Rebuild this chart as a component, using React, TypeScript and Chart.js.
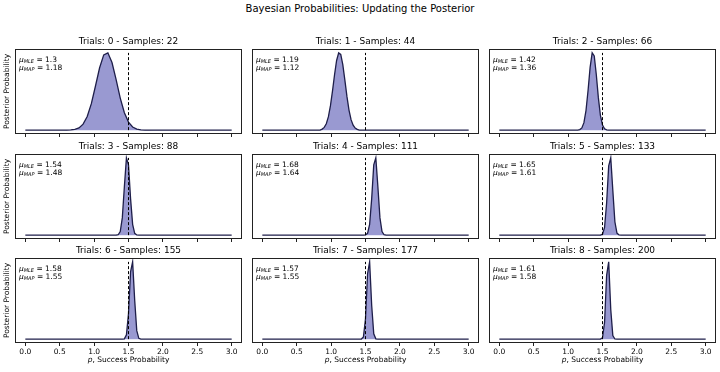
import React, { useEffect, useRef } from 'react';
import { Chart, registerables } from 'chart.js';

Chart.register(...registerables);

const TRIALS = [0, 1, 2, 3, 4, 5, 6, 7, 8];
const SAMPLES = [22, 44, 66, 88, 111, 133, 155, 177, 200];
const MU_MLE = [1.3, 1.19, 1.42, 1.54, 1.68, 1.65, 1.58, 1.57, 1.61];
const MU_MAP = [1.18, 1.12, 1.36, 1.48, 1.64, 1.61, 1.55, 1.55, 1.58];
const TRUE_P = 1.5;
const X_TICKS = [0, 0.5, 1, 1.5, 2, 2.5, 3];

// posterior curves (x = success probability, y = relative density)
const POST_X = [
  [0, 0.54, 0.6, 0.66, 0.72, 0.78, 0.84, 0.9, 0.96, 1.02, 1.08, 1.14, 1.2, 1.26, 1.32, 1.38, 1.44, 1.5, 1.56, 1.62, 1.68, 1.74, 1.8, 1.86, 3],
  [0, 0.84, 0.87, 0.9, 0.93, 0.96, 0.99, 1.02, 1.05, 1.08, 1.11, 1.14, 1.17, 1.2, 1.23, 1.26, 1.29, 1.32, 1.35, 1.38, 1.41, 3],
  [0, 1.14, 1.17, 1.2, 1.23, 1.26, 1.29, 1.32, 1.35, 1.38, 1.41, 1.44, 1.47, 1.5, 1.53, 1.56, 1.59, 3],
  [0, 1.32, 1.35, 1.38, 1.41, 1.44, 1.47, 1.5, 1.53, 1.56, 1.59, 1.62, 1.65, 3],
  [0, 1.47, 1.5, 1.53, 1.56, 1.59, 1.62, 1.65, 1.68, 1.71, 1.74, 1.77, 1.8, 3],
  [0, 1.44, 1.47, 1.5, 1.53, 1.56, 1.59, 1.62, 1.65, 1.68, 1.71, 1.74, 1.77, 3],
  [0, 1.41, 1.44, 1.47, 1.5, 1.53, 1.56, 1.59, 1.62, 1.65, 1.68, 3],
  [0, 1.41, 1.44, 1.47, 1.5, 1.53, 1.56, 1.59, 1.62, 1.65, 1.68, 3],
  [0, 1.44, 1.47, 1.5, 1.53, 1.56, 1.59, 1.62, 1.65, 1.68, 1.71, 3],
];
const POST_Y = [
  [0, 0, 0.001, 0.0025, 0.009, 0.028, 0.077, 0.175, 0.34, 0.566, 0.8, 0.965, 0.991, 0.867, 0.647, 0.411, 0.223, 0.103, 0.04, 0.0135, 0.0039, 0.0009, 0.0002, 0, 0],
  [0, 0, 0.0133, 0.035, 0.082, 0.17, 0.311, 0.501, 0.712, 0.895, 0.993, 0.973, 0.841, 0.642, 0.433, 0.258, 0.135, 0.063, 0.026, 0.0093, 0, 0],
  [0, 0, 0.0067, 0.0286, 0.0957, 0.249, 0.506, 0.801, 0.986, 0.946, 0.707, 0.411, 0.186, 0.066, 0.018, 0.0039, 0, 0],
  [0, 0, 0.005, 0.044, 0.216, 0.607, 0.969, 0.882, 0.458, 0.135, 0.0228, 0.0022, 0, 0],
  [0, 0, 0.0022, 0.0228, 0.135, 0.458, 0.882, 0.969, 0.607, 0.216, 0.044, 0.005, 0, 0],
  [0, 0, 0.0008, 0.012, 0.097, 0.401, 0.864, 0.964, 0.558, 0.167, 0.026, 0.002, 0, 0],
  [0, 0, 0.0039, 0.053, 0.317, 0.832, 0.955, 0.48, 0.105, 0.01, 0, 0],
  [0, 0, 0.0012, 0.028, 0.249, 0.801, 0.946, 0.411, 0.066, 0.0039, 0, 0],
  [0, 0, 0.0004, 0.017, 0.203, 0.775, 0.938, 0.36, 0.044, 0.0017, 0, 0],
];

const FONT = 'DejaVu Sans';
const W = 720;
const H = 372;
const COL_LEFT = [15, 252, 489];
const COL_RIGHT = [242, 479, 716];
const ROW_TOP = [49, 154, 258];
const ROW_BOTTOM = [134, 239, 343];

function Panel({ i }: { i: number }) {
  const ref = useRef<HTMLCanvasElement>(null);
  useEffect(() => {
    const row = Math.floor(i / 3);
    const col = i % 3;
    const left = COL_LEFT[col];
    const right = COL_RIGHT[col];
    const top = ROW_TOP[row];
    const bottom = ROW_BOTTOM[row];
    const yW = col === 0 ? 14 : 0;
    const xH = row === 2 ? 28 : 0;
    const titleH = 9 * 1.2 + 2;
    const points = POST_X[i].map((x, k) => ({ x, y: POST_Y[i][k] }));
    const peak = Math.max(...POST_Y[i]);

    const deco = {
      id: 'deco' + i,
      afterDraw(chart: any) {
        const { ctx, chartArea: a } = chart;
        ctx.save();
        // frame
        ctx.strokeStyle = '#222';
        ctx.lineWidth = 1;
        ctx.strokeRect(
          Math.round(a.left) + 0.5,
          Math.round(a.top) + 0.5,
          Math.round(a.right - a.left) - 1,
          Math.round(a.bottom - a.top) - 1
        );
        // annotations
        ctx.fillStyle = '#000';
        ctx.textBaseline = 'alphabetic';
        ctx.textAlign = 'left';
        const drawMu = (sub: string, val: number, y: number) => {
          let x = a.left + 4;
          ctx.font = `italic 7.5px "${FONT}"`;
          ctx.fillText('μ', x, y);
          x += ctx.measureText('μ').width;
          ctx.font = `italic 5px "${FONT}"`;
          ctx.fillText(sub, x, y + 1.5);
          x += ctx.measureText(sub).width;
          ctx.font = `7.5px "${FONT}"`;
          ctx.fillText(' = ' + String(val), x, y);
        };
        drawMu('MLE', MU_MLE[i], a.top + 12.5);
        drawMu('MAP', MU_MAP[i], a.top + 20.5);
        if (row === 2) {
          ctx.textBaseline = 'middle';
          const s1 = 'p';
          const s2 = ', Success Probability';
          ctx.font = `italic 7.5px "${FONT}"`;
          const w1 = ctx.measureText(s1).width;
          ctx.font = `7.5px "${FONT}"`;
          const w2 = ctx.measureText(s2).width;
          const x0 = (a.left + a.right) / 2 - (w1 + w2) / 2;
          const y = a.bottom + 17;
          ctx.font = `italic 7.5px "${FONT}"`;
          ctx.fillText(s1, x0, y);
          ctx.font = `7.5px "${FONT}"`;
          ctx.fillText(s2, x0 + w1, y);
        }
        ctx.restore();
      },
    };

    const chart = new Chart(ref.current as HTMLCanvasElement, {
      type: 'line',
      data: {
        datasets: [
          {
            data: [
              { x: TRUE_P, y: 0 },
              { x: TRUE_P, y: peak },
            ],
            borderColor: '#000',
            borderWidth: 1,
            borderDash: [3, 2],
            pointRadius: 0,
            fill: false,
          },
          {
            data: points,
            borderColor: '#1e1e4a',
            borderWidth: 1.3,
            backgroundColor: 'rgba(0,0,139,0.4)',
            fill: 'origin',
            pointRadius: 0,
            tension: 0,
          },
        ],
      },
      options: {
        responsive: false,
        animation: false,
        devicePixelRatio: 1,
        events: [],
        layout: {
          padding: {
            left: left - yW,
            right: W - right,
            top: top - titleH,
            bottom: H - bottom - xH,
          },
        },
        plugins: {
          legend: { display: false },
          tooltip: { enabled: false },
          title: {
            display: true,
            text: `Trials: ${TRIALS[i]} - Samples: ${SAMPLES[i]}`,
            font: { family: FONT, size: 9, weight: 'normal' },
            color: '#000',
            padding: { top: 0, bottom: 2 },
            fullSize: false,
          },
        },
        scales: {
          x: {
            type: 'linear',
            min: -0.15,
            max: 3.15,
            afterBuildTicks: (s: any) => {
              s.ticks = X_TICKS.map((v) => ({ value: v }));
            },
            afterFit: (s: any) => {
              s.height = xH;
            },
            grid: {
              display: true,
              drawOnChartArea: false,
              drawTicks: true,
              tickLength: 3,
              color: '#222',
              lineWidth: 1,
            },
            border: { display: false },
            ticks: {
              display: row === 2,
              font: { family: FONT, size: 7.5 },
              color: '#000',
              padding: 2,
              maxRotation: 0,
              autoSkip: false,
              callback: (v: any) => Number(v).toFixed(1),
            },
          },
          y: {
            type: 'linear',
            min: -0.05 * peak,
            max: 1.05 * peak,
            afterFit: (s: any) => {
              s.width = yW;
            },
            grid: { display: false },
            border: { display: false },
            ticks: { display: false },
            title: {
              display: col === 0,
              text: 'Posterior Probability',
              font: { family: FONT, size: 7.5 },
              color: '#000',
              padding: { top: 1.5, bottom: 0 },
            },
          },
        },
      } as any,
      plugins: [deco],
    });
    return () => chart.destroy();
  }, [i]);

  return (
    <canvas
      ref={ref}
      width={W}
      height={H}
      style={{ position: 'absolute', left: 0, top: 0 }}
    />
  );
}

export default function App() {
  return (
    <div
      style={{
        position: 'fixed',
        left: 0,
        top: 0,
        width: W,
        height: H,
        background: '#fff',
        overflow: 'hidden',
      }}
    >
      <div
        style={{
          position: 'absolute',
          top: 2,
          left: 0,
          width: W,
          textAlign: 'center',
          fontFamily: FONT,
          fontSize: 10,
          lineHeight: '14px',
          color: '#000',
        }}
      >
        Bayesian Probabilities: Updating the Posterior
      </div>
      {TRIALS.map((t, i) => (
        <Panel key={t} i={i} />
      ))}
    </div>
  );
}
